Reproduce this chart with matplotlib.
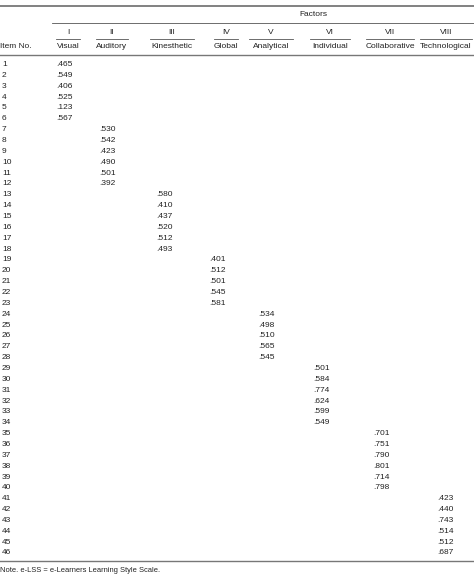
import matplotlib.pyplot as plt

factor_nums = ["I", "II", "III", "IV", "V", "VI", "VII", "VIII"]
factor_names = ["Visual", "Auditory", "Kinesthetic", "Global", "Analytical",
                "Individual", "Collaborative", "Technological"]
loadings = [
    [".465", ".549", ".406", ".525", ".123", ".567"],
    [".530", ".542", ".423", ".490", ".501", ".392"],
    [".580", ".410", ".437", ".520", ".512", ".493"],
    [".401", ".512", ".501", ".545", ".581"],
    [".534", ".498", ".510", ".565", ".545"],
    [".501", ".584", ".774", ".624", ".599", ".549"],
    [".701", ".751", ".790", ".801", ".714", ".798"],
    [".423", ".440", ".743", ".514", ".512", ".687"],
]
note = "Note. e-LSS = e-Learners Learning Style Scale."

W, H = 474, 576
fig = plt.figure(figsize=(W / 100, H / 100), dpi=100)
ax = fig.add_axes([0, 0, 1, 1])
ax.set_xlim(0, W)
ax.set_ylim(H, 0)
ax.axis("off")
plt.rcParams["font.family"] = ["Liberation Sans", "DejaVu Sans"]
fs = 6.0
col = "#222222"

centers = [68, 112, 172, 226, 271, 330, 390, 446]
val_x = [56, 99, 156, 209, 258, 313, 373, 437]
halfw = [12, 16, 22, 12, 22, 20, 24, 26]

ax.plot([0, W], [6, 6], color="#777777", lw=1.3)
ax.text(313, 15, "Factors", fontsize=fs, color=col, ha="center", va="center")
ax.plot([52, W], [23, 23], color="#555555", lw=0.6)
for c, n, name, hw in zip(centers, factor_nums, factor_names, halfw):
    ax.text(c, 32, n, fontsize=fs, color=col, ha="center", va="center")
    ax.plot([c - hw, c + hw], [39, 39], color="#555555", lw=0.6)
    ax.text(c, 47, name, fontsize=fs, color=col, ha="center", va="center")
ax.text(0, 47, "Item No.", fontsize=fs, color=col, ha="left", va="center")
ax.plot([0, W], [55, 55], color="#777777", lw=1.0)

y0, dy = 64.5, (553 - 64.5) / 45
item = 0
for j, vals in enumerate(loadings):
    for v in vals:
        y = y0 + item * dy
        item += 1
        ax.text(2, y, str(item), fontsize=fs, color=col, ha="left", va="center")
        ax.text(val_x[j], y, v, fontsize=fs, color=col, ha="left", va="center")

ax.plot([0, W], [561, 561], color="#777777", lw=1.0)
ax.text(0, 571, note, fontsize=5.4, color=col, ha="left", va="center")

fig.savefig("out.png", dpi=100)
